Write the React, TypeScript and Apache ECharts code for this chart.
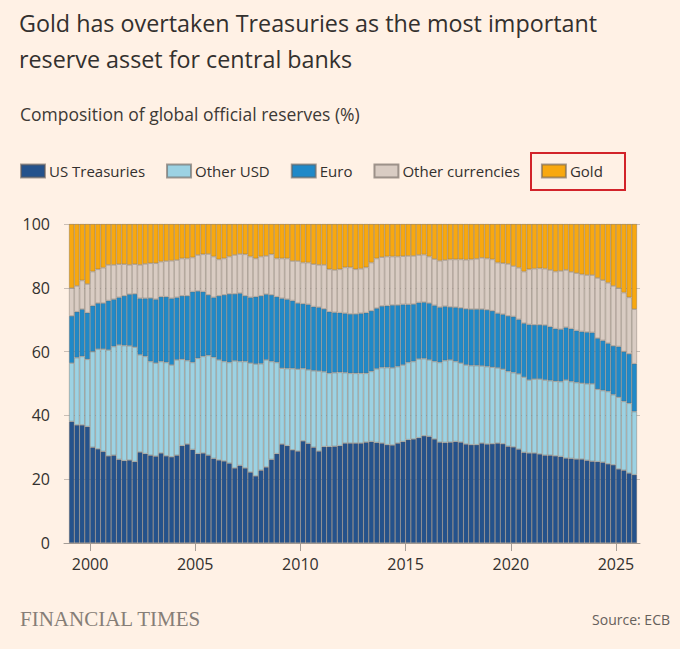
import React, { useEffect, useRef } from "react";
import * as echarts from "echarts";

const firstYear = 1999;
const lastYear = 2025;
const quarters: string[] = [];
for (let y = firstYear; y <= lastYear; y++) {
  for (let q = 1; q <= 4; q++) quarters.push(`${y} Q${q}`);
}

const yearTicks = [2000, 2005, 2010, 2015, 2020, 2025];

const usTreasuries = [
  38.1, 37.0, 37.0, 36.5, 30.0, 29.5, 28.7, 27.3, 27.5, 26.2,
  25.8, 26.0, 25.5, 28.5, 28.0, 27.5, 27.2, 28.2, 27.3, 27.0,
  27.5, 30.5, 31.0, 29.3, 28.0, 28.2, 27.5, 26.5, 26.0, 25.7,
  25.0, 23.5, 24.3, 23.5, 22.2, 21.0, 22.8, 23.8, 26.2, 28.0,
  31.0, 30.5, 29.2, 28.8, 32.0, 31.2, 30.0, 28.8, 30.2, 30.2,
  30.3, 30.5, 31.3, 31.3, 31.3, 31.3, 31.6, 31.8, 31.5, 31.3,
  30.8, 30.7, 31.3, 31.8, 32.4, 32.6, 33.0, 33.6, 33.4, 32.6,
  31.6, 31.5, 31.6, 31.8, 31.6, 31.0, 30.8, 30.8, 31.3, 31.0,
  31.1, 31.3, 31.1, 30.3, 30.1, 29.4, 28.4, 28.2, 28.2, 27.9,
  27.5, 27.5, 27.3, 27.1, 26.6, 26.5, 26.3, 26.3, 25.9, 25.6,
  25.5, 25.3, 24.8, 24.5, 23.2, 22.8, 21.9, 21.4,
];

const otherUsd = [
  18.3, 21.1, 21.5, 21.1, 30.0, 31.3, 32.1, 33.2, 34.1, 35.9,
  36.1, 35.8, 35.9, 30.5, 30.5, 29.4, 29.2, 28.7, 29.3, 28.8,
  29.9, 27.1, 26.2, 27.3, 29.9, 30.3, 31.3, 31.7, 31.4, 31.2,
  31.6, 33.6, 32.6, 33.4, 34.2, 35.1, 33.4, 33.6, 30.7, 28.6,
  23.8, 24.2, 25.5, 25.7, 22.7, 23.1, 24.0, 25.1, 23.5, 23.0,
  23.1, 23.0, 22.1, 21.9, 21.9, 21.9, 21.6, 22.0, 23.1, 23.7,
  24.2, 24.2, 24.0, 24.0, 24.2, 24.3, 24.7, 24.2, 24.0, 24.3,
  25.0, 25.7, 25.8, 25.1, 24.8, 24.8, 24.8, 24.8, 24.2, 24.3,
  24.0, 23.6, 23.4, 23.5, 23.3, 23.6, 23.6, 22.9, 23.2, 23.5,
  23.6, 23.4, 23.4, 23.5, 24.5, 24.1, 24.0, 23.8, 24.0, 24.3,
  22.7, 22.5, 22.7, 22.0, 22.5, 21.6, 21.9, 19.8,
];

const euro = [
  14.8, 14.4, 14.8, 14.6, 14.4, 14.4, 14.4, 15.5, 14.8, 14.9,
  15.6, 16.2, 16.7, 17.7, 18.2, 19.9, 20.0, 20.3, 20.6, 20.9,
  19.6, 19.9, 20.3, 22.2, 21.1, 20.3, 19.0, 18.8, 20.1, 20.9,
  21.5, 21.0, 21.4, 20.6, 20.6, 21.1, 21.3, 20.6, 20.9, 20.6,
  21.9, 21.7, 21.3, 20.7, 20.3, 20.5, 20.1, 20.0, 19.7, 19.3,
  18.9, 18.7, 18.6, 18.6, 18.6, 18.8, 19.0, 19.0, 19.0, 19.3,
  19.4, 19.7, 19.3, 19.0, 18.2, 18.0, 17.7, 17.7, 17.8, 17.6,
  17.3, 17.0, 16.6, 17.0, 17.3, 17.6, 17.7, 17.7, 17.8, 17.8,
  17.7, 17.1, 17.2, 17.4, 17.6, 17.1, 16.9, 17.4, 17.0, 17.0,
  17.2, 16.9, 16.5, 16.4, 16.5, 16.6, 16.3, 16.2, 16.2, 16.1,
  16.0, 15.7, 15.1, 15.3, 15.9, 15.6, 15.5, 15.0,
];

const otherCurrencies = [
  8.7, 8.1, 9.0, 9.0, 10.7, 10.6, 11.1, 11.2, 10.8, 10.4,
  9.9, 9.2, 9.3, 10.5, 10.8, 10.9, 11.3, 11.0, 11.2, 11.8,
  11.7, 11.7, 11.7, 10.7, 11.3, 11.7, 12.8, 12.8, 11.4, 11.4,
  11.7, 12.2, 12.3, 13.0, 12.8, 12.0, 12.3, 12.0, 12.7, 12.0,
  12.5, 12.8, 12.4, 13.2, 12.9, 13.1, 13.3, 13.3, 13.8, 13.3,
  13.3, 13.6, 14.4, 14.6, 14.0, 14.0, 14.2, 15.1, 15.6, 15.3,
  15.4, 15.2, 15.2, 15.1, 15.2, 15.1, 14.9, 14.9, 14.6, 14.5,
  14.6, 14.5, 14.9, 15.0, 15.2, 15.4, 15.6, 15.8, 16.1, 16.1,
  16.1, 15.9, 16.0, 16.3, 15.8, 16.2, 16.2, 17.3, 17.6, 17.7,
  17.7, 17.8, 17.9, 18.3, 18.0, 17.8, 18.0, 17.9, 17.9, 18.0,
  18.9, 18.9, 19.0, 18.8, 18.3, 18.5, 17.7, 17.1,
];

const gold = [
  20.1, 19.4, 17.7, 18.8, 14.9, 14.2, 13.7, 12.8, 12.8, 12.6,
  12.6, 12.8, 12.6, 12.8, 12.5, 12.3, 12.3, 11.8, 11.6, 11.5,
  11.3, 10.8, 10.8, 10.5, 9.7, 9.5, 9.4, 10.2, 11.1, 10.8,
  10.2, 9.7, 9.4, 9.5, 10.2, 10.8, 10.2, 10.0, 9.5, 10.8,
  10.8, 10.8, 11.6, 11.6, 12.1, 12.1, 12.6, 12.8, 12.8, 14.2,
  14.4, 14.2, 13.6, 13.6, 14.2, 14.0, 13.6, 12.1, 10.8, 10.4,
  10.2, 10.2, 10.2, 10.1, 10.0, 10.0, 9.7, 9.6, 10.2, 11.0,
  11.5, 11.3, 11.1, 11.1, 11.1, 11.2, 11.1, 10.9, 10.6, 10.8,
  11.1, 12.1, 12.3, 12.5, 13.2, 13.7, 14.9, 14.2, 14.0, 13.9,
  14.0, 14.4, 14.9, 14.7, 14.4, 15.0, 15.4, 15.8, 16.0, 16.0,
  16.9, 17.6, 18.4, 19.4, 20.1, 21.5, 23.0, 26.7,
];

const seriesDefs = [
  { name: "US Treasuries", data: usTreasuries, color: "#24528C" },
  { name: "Other USD", data: otherUsd, color: "#9CD2E3" },
  { name: "Euro", data: euro, color: "#2089C8" },
  { name: "Other currencies", data: otherCurrencies, color: "#D9CCC3" },
  { name: "Gold", data: gold, color: "#F8A80F" },
];

const FONT = "'Open Sans', 'Noto Sans', sans-serif";
const TEXT = "#33302E";

export default function App() {
  const ref = useRef<HTMLDivElement>(null);

  useEffect(() => {
    if (!ref.current) return;
    const chart = echarts.init(ref.current, undefined, { renderer: "svg" });
    const option: any = {
      animation: false,
      backgroundColor: "#FFF1E5",
      textStyle: { fontFamily: FONT },
      title: [
        {
          text: "Gold has overtaken Treasuries as the most important\nreserve asset for central banks",
          left: 14,
          top: 0,
          textStyle: { fontFamily: FONT, fontSize: 23.3, fontWeight: "normal", color: TEXT, lineHeight: 36 },
        },
        {
          text: "Composition of global official reserves (%)",
          left: 15,
          top: 97,
          textStyle: { fontFamily: FONT, fontSize: 17.5, fontWeight: "normal", color: "#3d3935", lineHeight: 24 },
        },
      ],
      legend: {
        left: 15,
        top: 156,
        itemWidth: 24,
        itemHeight: 13,
        itemGap: 21,
        icon: "rect",
        data: seriesDefs.map((s) => s.name),
        textStyle: { fontFamily: FONT, fontSize: 15, color: TEXT, lineHeight: 20, padding: [0, 0, 0, -1] },
        selectedMode: false,
      },
      grid: [
        { left: 64, right: 40, top: 224, bottom: 106 },
        { left: 69, right: 43, top: 224, bottom: 106 },
      ],
      xAxis: [
        {
          type: "category",
          gridIndex: 1,
          data: quarters,
          boundaryGap: true,
          axisLine: { show: false },
          axisTick: { show: false },
          axisLabel: { show: false },
        },
        {
          type: "value",
          gridIndex: 1,
          position: "bottom",
          min: firstYear,
          max: lastYear + 1,
          axisLine: { show: false },
          splitLine: { show: false },
          axisTick: {
            show: true,
            customValues: yearTicks,
            length: 8,
            lineStyle: { color: "#a59d96", width: 1 },
          },
          axisLabel: {
            customValues: yearTicks,
            formatter: (v: number) => String(v),
            fontFamily: FONT,
            fontSize: 16,
            color: TEXT,
            margin: 13,
          },
        },
        {
          type: "value",
          gridIndex: 0,
          position: "bottom",
          min: 0,
          max: 1,
          axisLine: { show: true, onZero: false, lineStyle: { color: "#a59d96", width: 1 } },
          axisTick: { show: false },
          axisLabel: { show: false },
          splitLine: { show: false },
        },
      ],
      yAxis: [
        {
          type: "value",
          gridIndex: 0,
          min: 0,
          max: 100,
          interval: 20,
          axisLine: { show: false },
          axisTick: { show: false },
          axisLabel: { fontFamily: FONT, fontSize: 16, color: TEXT, margin: 14 },
          splitLine: { show: true, lineStyle: { color: "#c9beb5", width: 1 } },
        },
        {
          type: "value",
          gridIndex: 1,
          min: 0,
          max: 100,
          show: false,
          splitLine: { show: false },
        },
      ],
      series: seriesDefs.map((s) => ({
        name: s.name,
        type: "bar",
        stack: "total",
        xAxisIndex: 0,
        yAxisIndex: 1,
        data: s.data,
        barCategoryGap: "0%",
        itemStyle: { color: s.color, borderColor: "rgba(105,95,88,0.6)", borderWidth: 0.6 },
        emphasis: { disabled: true },
      })),
      graphic: [
        {
          type: "rect",
          shape: { x: 531, y: 153, width: 94, height: 37 },
          style: { fill: "none", stroke: "#D2232A", lineWidth: 2 },
          silent: true,
        },
        {
          type: "text",
          left: 20,
          top: 608,
          style: {
            text: "FINANCIAL TIMES",
            font: "21px 'Liberation Serif', 'DejaVu Serif', serif",
            fill: "#867e77",
          },
        },
        {
          type: "text",
          right: 10,
          top: 612,
          style: {
            text: "Source: ECB",
            font: `14px ${FONT}`,
            fill: "#66605b",
          },
        },
      ],
    };
    chart.setOption(option);
    return () => chart.dispose();
  }, []);

  return (
    <div
      ref={ref}
      style={{ position: "fixed", left: 0, top: 0, width: 680, height: 649, background: "#FFF1E5" }}
    />
  );
}
